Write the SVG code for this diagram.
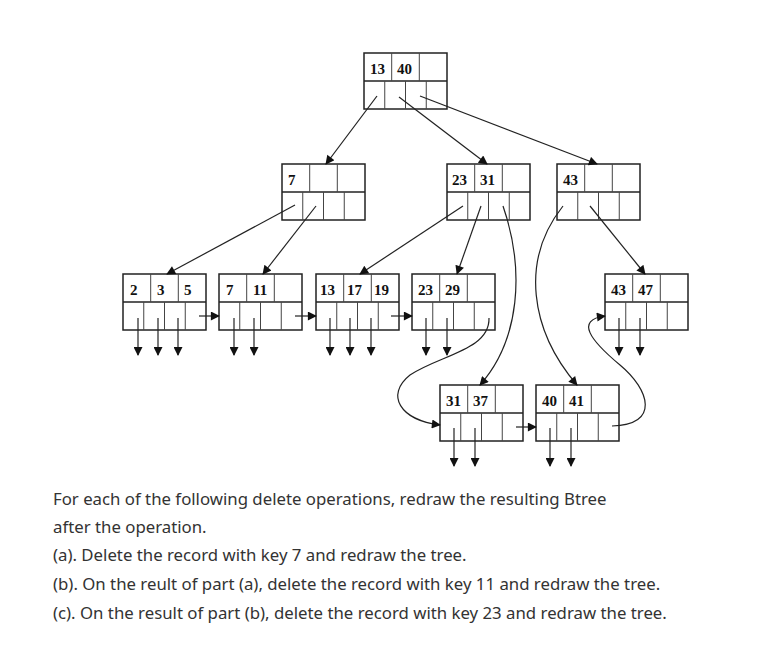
<svg xmlns="http://www.w3.org/2000/svg" width="762" height="660" viewBox="0 0 762 660">
<style>
.b{fill:#fff;stroke:#222;stroke-width:1.5}
.d{stroke:#444;stroke-width:1}
.k{font-family:"Liberation Serif",serif;font-size:15px;font-weight:bold;fill:#111}
.c{fill:none;stroke:#222;stroke-width:1.2}
.t{font-family:"Noto Sans","Liberation Sans",sans-serif;font-size:16.8px;fill:#333}
</style>
<defs>
<marker id="a" viewBox="0 0 10 10" refX="9" refY="5" markerWidth="11" markerHeight="9" orient="auto" markerUnits="userSpaceOnUse"><path d="M0,0L10,5L0,10z" fill="#111"/></marker>
<g id="n">
<rect class="b" x="0" y="0" width="83" height="56"/>
<line class="b" x1="0" y1="28" x2="83" y2="28"/>
<line class="d" x1="27.7" y1="0" x2="27.7" y2="28"/>
<line class="d" x1="55.3" y1="0" x2="55.3" y2="28"/>
<line class="d" x1="20.75" y1="28" x2="20.75" y2="56"/>
<line class="d" x1="41.5" y1="28" x2="41.5" y2="56"/>
<line class="d" x1="62.25" y1="28" x2="62.25" y2="56"/>
</g>
</defs>
<g id="root"><use href="#n" x="364" y="53"/><text class="k" x="370" y="74">13</text><text class="k" x="397" y="74">40</text></g>
<g id="n7"><use href="#n" x="282" y="164"/><text class="k" x="288" y="185">7</text></g>
<g id="n2331"><use href="#n" x="447" y="164"/><text class="k" x="452" y="185">23</text><text class="k" x="480" y="185">31</text></g>
<g id="n43"><use href="#n" x="557" y="164"/><text class="k" x="563" y="185">43</text></g>
<g id="l235"><use href="#n" x="123" y="274"/><text class="k" x="130" y="295">2</text><text class="k" x="157" y="295">3</text><text class="k" x="184" y="295">5</text></g>
<g id="l711"><use href="#n" x="219" y="274"/><text class="k" x="226" y="295">7</text><text class="k" x="253" y="295">11</text></g>
<g id="l131719"><use href="#n" x="316" y="274"/><text class="k" x="320" y="295">13</text><text class="k" x="347" y="295">17</text><text class="k" x="374" y="295">19</text></g>
<g id="l2329"><use href="#n" x="412" y="274"/><text class="k" x="418" y="295">23</text><text class="k" x="445" y="295">29</text></g>
<g id="l4347"><use href="#n" x="605" y="274"/><text class="k" x="611" y="295">43</text><text class="k" x="638" y="295">47</text></g>
<g id="l3137"><use href="#n" x="440" y="385"/><text class="k" x="446" y="406">31</text><text class="k" x="473" y="406">37</text></g>
<g id="l4041"><use href="#n" x="536" y="385"/><text class="k" x="542" y="406">40</text><text class="k" x="569" y="406">41</text></g>
<g id="connectors" marker-end="url(#a)">
<line class="c" x1="377" y1="96" x2="326" y2="164"/>
<line class="c" x1="399" y1="97" x2="487" y2="164"/>
<line class="c" x1="420" y1="96" x2="597" y2="164"/>
<line class="c" x1="295" y1="205" x2="167" y2="274"/>
<line class="c" x1="316" y1="206" x2="263" y2="274"/>
<line class="c" x1="463" y1="206" x2="360" y2="274"/>
<line class="c" x1="481" y1="206" x2="457" y2="274"/>
<path class="c" d="M503,206 C525,270 520,340 480,385"/>
<path class="c" d="M563,206 C520,260 530,330 577,385"/>
<line class="c" x1="590" y1="206" x2="645" y2="274"/>
<path class="c" d="M489,318 C490,350 440,355 410,375 C385,395 400,420 440,425"/>
<path class="c" d="M612,426 C660,425 650,390 620,365 C590,340 575,320 605,316"/>
<line class="c" x1="199" y1="316" x2="219" y2="316"/>
<line class="c" x1="295" y1="316" x2="316" y2="316"/>
<line class="c" x1="391" y1="316" x2="412" y2="316"/>
<line class="c" x1="516" y1="427" x2="536" y2="427"/>
<line class="c" x1="138" y1="318" x2="138" y2="355"/>
<line class="c" x1="158" y1="318" x2="158" y2="355"/>
<line class="c" x1="178" y1="318" x2="178" y2="355"/>
<line class="c" x1="234" y1="318" x2="234" y2="355"/>
<line class="c" x1="254" y1="318" x2="254" y2="355"/>
<line class="c" x1="330" y1="318" x2="330" y2="355"/>
<line class="c" x1="350" y1="318" x2="350" y2="355"/>
<line class="c" x1="371" y1="318" x2="371" y2="355"/>
<line class="c" x1="426" y1="318" x2="426" y2="355"/>
<line class="c" x1="447" y1="318" x2="447" y2="355"/>
<line class="c" x1="619" y1="318" x2="619" y2="355"/>
<line class="c" x1="640" y1="318" x2="640" y2="355"/>
<line class="c" x1="454" y1="428" x2="454" y2="466"/>
<line class="c" x1="475" y1="428" x2="475" y2="466"/>
<line class="c" x1="550" y1="428" x2="550" y2="466"/>
<line class="c" x1="571" y1="428" x2="571" y2="466"/>
</g>
<g id="text">
<text class="t" x="53" y="505">For each of the following delete operations, redraw the resulting Btree</text>
<text class="t" x="53" y="533">after the operation.</text>
<text class="t" x="53" y="561">(a). Delete the record with key 7 and redraw the tree.</text>
<text class="t" x="53" y="590">(b). On the reult of part (a), delete the record with key 11 and redraw the tree.</text>
<text class="t" x="53" y="619">(c). On the result of part (b), delete the record with key 23 and redraw the tree.</text>
</g>
</svg>
